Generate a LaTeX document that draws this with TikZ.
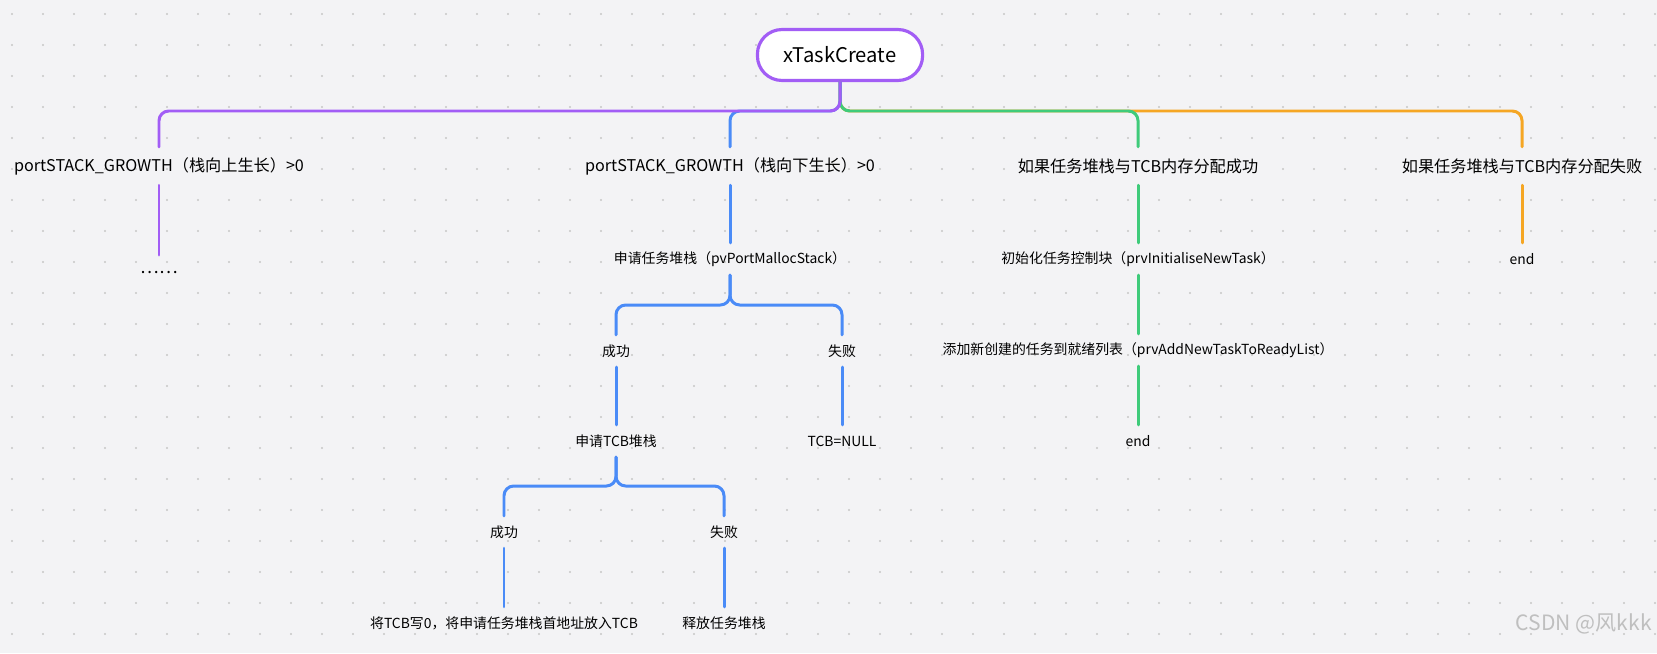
\documentclass[tikz,border=0pt]{standalone}
\usepackage{fontspec}
\setmainfont{Noto Sans CJK SC}
\definecolor{bg}{HTML}{F3F3F5}
\definecolor{pur}{HTML}{A25DF5}
\definecolor{blu}{HTML}{4A8BF7}
\definecolor{grn}{HTML}{3FCB7A}
\definecolor{org}{HTML}{F5A623}
\begin{document}
\begin{tikzpicture}[x=0.02cm,y=-0.02cm,
  br/.style={line width=1.7pt,rounded corners=5.5pt,line cap=round},
  l1/.style={font=\fontsize{9.2}{11}\selectfont,inner sep=0,minimum height=21.5pt},
  l2/.style={font=\fontsize{7.9}{9}\selectfont,inner sep=0,minimum height=18pt}]
\fill[bg] (0,0) rectangle (1657,653);
\useasboundingbox (0,0) rectangle (1657,653);
\foreach \i in {0,...,53}{\foreach \j in {0,...,20}{\fill[gray!45] (12+\i*31,14+\j*31) circle (1.1);}}
\node[draw=pur,line width=1.8pt,fill=white,rounded corners=14pt,minimum width=94pt,minimum height=29pt,inner sep=0,font=\fontsize{11.5}{13}\selectfont] (root) at (840,55) {xTaskCreate};
% level 1
\node[l1] (a) at (159,166) {portSTACK\_GROWTH（栈向上生长）>0};
\node[l1] (b) at (730,166) {portSTACK\_GROWTH（栈向下生长）>0};
\node[l1] (c) at (1138,166) {如果任务堆栈与TCB内存分配成功};
\node[l1] (d) at (1522,166) {如果任务堆栈与TCB内存分配失败};
\draw[br,org] (root.south) |- (d.north |- 0,111) -- (d.north);
\draw[br,grn] (root.south) |- (c.north |- 0,111) -- (c.north);
\draw[br,blu] (root.south) |- (b.north |- 0,111) -- (b.north);
\draw[br,pur] (root.south) |- (a.north |- 0,111) -- (a.north);
% branch a
\node[font=\fontsize{10}{11}\selectfont,inner sep=0,minimum height=20pt] (a1) at (159,273) {……};
\draw[br,pur] (a.south) -- (a1.north);
% branch b
\node[l2] (b1) at (730,259) {申请任务堆栈（pvPortMallocStack）};
\draw[br,blu] (b.south) -- (b1.north);
\node[l2] (b2) at (616,351) {成功};
\node[l2] (b3) at (842,351) {失败};
\draw[br,blu] (b1.south) |- (b2.north |- 0,305) -- (b2.north);
\draw[br,blu] (b1.south) |- (b3.north |- 0,305) -- (b3.north);
\node[l2] (b4) at (616,441) {申请TCB堆栈};
\node[l2] (b5) at (842,441) {TCB=NULL};
\draw[br,blu] (b2.south) -- (b4.north);
\draw[br,blu] (b3.south) -- (b5.north);
\node[l2] (b6) at (504,532) {成功};
\node[l2] (b7) at (724,532) {失败};
\draw[br,blu] (b4.south) |- (b6.north |- 0,486) -- (b6.north);
\draw[br,blu] (b4.south) |- (b7.north |- 0,486) -- (b7.north);
\node[l2] (b8) at (504,623) {将TCB写0，将申请任务堆栈首地址放入TCB};
\node[l2] (b9) at (724,623) {释放任务堆栈};
\draw[br,blu] (b6.south) -- (b8.north);
\draw[br,blu] (b7.south) -- (b9.north);
% branch c
\node[l2] (c1) at (1138,259) {初始化任务控制块（prvInitialiseNewTask）};
\node[l2] (c2) at (1138,350) {添加新创建的任务到就绪列表（prvAddNewTaskToReadyList）};
\node[l2] (c3) at (1138,441) {end};
\draw[br,grn] (c.south) -- (c1.north);
\draw[br,grn] (c1.south) -- (c2.north);
\draw[br,grn] (c2.south) -- (c3.north);
% branch d
\node[l2] (d1) at (1522,259) {end};
\draw[br,org] (d.south) -- (d1.north);
\node[text=gray!50,font=\fontsize{12}{14}\selectfont,anchor=east,inner sep=0] (wm) at (1652,624) {CSDN @风kkk};
\end{tikzpicture}
\end{document}
